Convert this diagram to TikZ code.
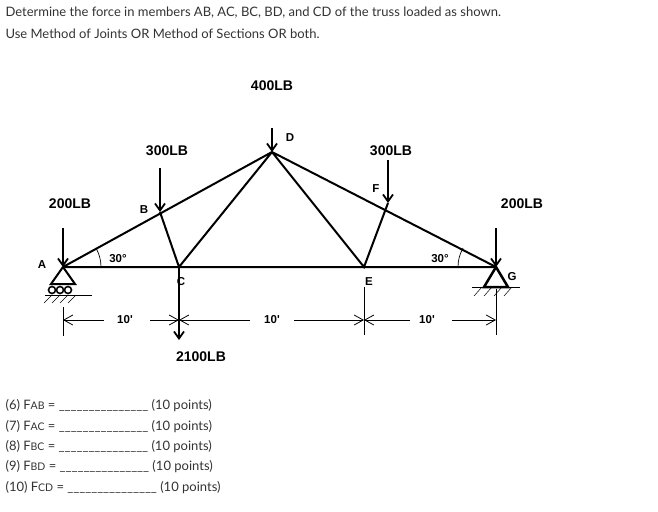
\documentclass[tikz,border=0pt]{standalone}
\usepackage{fontspec}
\setmainfont{Lato}
\newfontfamily\arial{Liberation Sans}
\usetikzlibrary{arrows.meta}
\begin{document}
\begin{tikzpicture}[x=1pt,y=-1pt,
  mem/.style={line width=2pt},
  load/.style={line width=1.8pt,-{Straight Barb[length=7pt,width=10pt,line width=1.8pt]}},
  lb/.style={font=\arial\bfseries\fontsize{14}{16}\selectfont},
  jl/.style={font=\arial\bfseries\fontsize{11.5}{13}\selectfont},
  dim/.style={line width=0.8pt,-{Straight Barb[length=9pt,width=10pt]}},
  txt/.style={font=\fontsize{13}{15}\selectfont,anchor=west,text=black!80}]
\useasboundingbox (0,0) rectangle (658,511);
\node[txt] (h1) at (2,13) {Determine the force in members AB, AC, BC, BD, and CD of the truss loaded as shown.};
\node[txt] (h2) at (2,34) {Use Method of Joints OR Method of Sections OR both.};
\coordinate (A) at (63,267); \coordinate (C) at (179,267);
\coordinate (E) at (364,267); \coordinate (G) at (496,267);
\coordinate (D) at (272,152); \coordinate (B) at (160,212);
\coordinate (F) at (388,203);
\draw[mem] (A)--(G) (A)--(D)--(G) (B)--(C)--(D)--(E)--(F);
% loads
\coordinate (a0) at (63,228); \coordinate (b0) at (160,168);
\coordinate (d0) at (272,128); \coordinate (f0) at (388,160);
\coordinate (g0) at (496,228); \coordinate (c0) at (179,340);
\draw[load] (a0)--(A); \draw[load] (b0)--(B); \draw[load] (d0)--(D);
\draw[load] (f0)--(F); \draw[load] (g0)--(G); \draw[load] (C)--(c0);
\node[lb] (l1) at (70,204) {200LB};
\node[lb] (l2) at (167,151) {300LB};
\node[lb] (l3) at (272,86) {400LB};
\node[lb] (l4) at (391,151) {300LB};
\node[lb] (l5) at (522,204) {200LB};
\node[lb] (l6) at (201,357) {2100LB};
\node[jl] (jA) at (42,265) {A}; \node[jl] (jB) at (144,210) {B};
\node[jl] (jC) at (181,282) {C}; \node[jl] (jD) at (290,138) {D};
\node[jl] (jE) at (369,282) {E}; \node[jl] (jF) at (376,189) {F};
\node[jl] (jG) at (512,277) {G};
% angles
\draw[line width=0.7pt] (A)++(0:38) arc[start angle=0,end angle=-30,radius=38];
\node[jl] (an1) at (118,259) {30°};
\draw[line width=0.7pt] (G)++(180:38) arc[start angle=180,end angle=210,radius=38];
\node[jl] (an2) at (440,259) {30°};
% supports
\draw[line width=2pt] (A)--(51,284)--(75,284)--cycle;
\foreach \x in {49,57,65}{\draw[line width=1.6pt] (\x+3,290) circle[radius=3.5];}
\draw[line width=1pt] (45,295)--(92,295);
\foreach \x in {52,60,68,76}{\draw[line width=0.5pt] (\x,295)--(\x-8,303);}
\draw[line width=2.5pt] (G)--(484,287)--(508,287)--cycle;
\draw[line width=0.7pt] (472,287)--(520,287);
\foreach \x in {482,492,502,512}{\draw[line width=0.5pt] (\x,287)--(\x-8,296);}
% dimensions
\draw[line width=0.7pt] (63,307)--(63,336) (179,285)--(179,335) (364,287)--(364,335) (496,289)--(496,335);
\coordinate (m1) at (125,320); \coordinate (m2) at (272,320); \coordinate (m3) at (427,320);
\node[jl] (t1) at (m1) {10'}; \node[jl] (t2) at (m2) {10'}; \node[jl] (t3) at (m3) {10'};
\draw[dim] (104,320)--(63,320); \draw[dim] (150,320)--(179,320);
\draw[dim] (250,320)--(179,320); \draw[dim] (294,320)--(364,320);
\draw[dim] (410,320)--(364,320); \draw[dim] (452,320)--(496,320);
% questions
\foreach \i/\n/\s/\y in {1/(6)/AB/406,2/(7)/AC/427,3/(8)/BC/447,4/(9)/BD/467}{
  \node[txt] (q\i) at (2,\y) {\n{} F{\fontsize{10.5}{12}\selectfont\s} = \_\_\_\_\_\_\_\_\_\_\_\_\_\_\_ (10 points)};}
\node[txt] (q5) at (2,488) {(10) F{\fontsize{10.5}{12}\selectfont CD} = \_\_\_\_\_\_\_\_\_\_\_\_\_\_\_ (10 points)};
\end{tikzpicture}
\end{document}
